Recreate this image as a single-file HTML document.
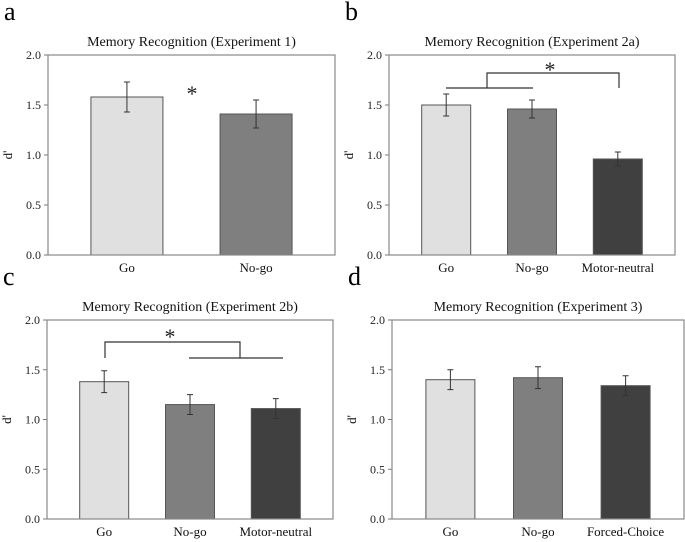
<!DOCTYPE html>
<html><head><meta charset="utf-8"><style>
html,body{margin:0;padding:0;background:#fff;}
svg{display:block;font-family:"Liberation Serif",serif;}
</style></head><body>
<svg id="fig" width="685" height="542" viewBox="0 0 685 542"></svg>
<script>
// Panel a
const catsA = ["Go","No-go"];
const valsA = [1.58,1.41];
const errsA = [0.15,0.14];
// Panel b
const catsB = ["Go","No-go","Motor-neutral"];
const valsB = [1.50,1.46,0.96];
const errsB = [0.11,0.09,0.07];
// Panel c
const catsC = ["Go","No-go","Motor-neutral"];
const valsC = [1.38,1.15,1.11];
const errsC = [0.11,0.10,0.10];
// Panel d
const catsD = ["Go","No-go","Forced-Choice"];
const valsD = [1.40,1.42,1.34];
const errsD = [0.10,0.11,0.10];
const yTicks = [0.0,0.5,1.0,1.5,2.0];
const yTickLabels = ["0.0","0.5","1.0","1.5","2.0"];

const NS="http://www.w3.org/2000/svg";
const svg=document.getElementById('fig');
function mk(tag,attrs,parent){const e=document.createElementNS(NS,tag);for(const k in attrs)e.setAttribute(k,attrs[k]);(parent||svg).appendChild(e);return e;}
const fills={"Go":"#e0e0e0","No-go":"#7f7f7f","Motor-neutral":"#404040","Forced-Choice":"#404040"};

function panel(id,letter,title,x0,x1,yT,yB,cats,vals,errs,bw,pad){
  const g=mk('g',{});
  
  
  const y=v=>yB-(v/2.0)*(yB-yT);
  const n=cats.length,w=x1-x0;
  const cx=i=>x0+w*(pad+i*(1-2*pad)/(n-1));
  const L=mk('text',{x:x0-44,y:yT-35,'font-size':26,fill:'#000'},g);L.textContent=letter;
  
  const T=mk('text',{x:(x0+x1)/2,y:yT-9,'font-size':14,'text-anchor':'middle',fill:'#111'},g);T.textContent=title;
  
  yTicks.forEach((t,i)=>{
    const tl=mk('line',{x1:x0-4,x2:x0,y1:y(t),y2:y(t),stroke:'#777'},g);
    
    const tx=mk('text',{x:x0-7,y:y(t)+4,'font-size':12,'text-anchor':'end',fill:'#222'},g);tx.textContent=yTickLabels[i];
    
  });
  const yl=mk('text',{x:0,y:0,'font-size':13,'text-anchor':'middle',transform:`translate(${x0-36},${(yT+yB)/2}) rotate(-90)`,fill:'#111'},g);yl.textContent="d'";
  
  cats.forEach((c,i)=>{
    const r=mk('rect',{x:cx(i)-bw/2,y:y(vals[i]),width:bw,height:yB-y(vals[i]),fill:fills[c],stroke:'#555','stroke-width':1},g);
    
    const eh=y(vals[i]+errs[i]),el=y(vals[i]-errs[i]);
    const e=mk('path',{d:`M${cx(i)},${eh}V${el}M${cx(i)-3},${eh}H${cx(i)+3}M${cx(i)-3},${el}H${cx(i)+3}`,stroke:'#333',fill:'none'},g);
    
    const lb=mk('text',{x:cx(i),y:yB+17,'font-size':13,'text-anchor':'middle',fill:'#111'},g);lb.textContent=c;
    
  });
  const b=mk('rect',{x:x0,y:yT,width:w,height:yB-yT,fill:'none',stroke:'#888','stroke-width':1.2},g);
  
  return {g,y,cx};
}
function star(g,x,yy){const s=mk('text',{x:x,y:yy,'font-size':22,'text-anchor':'middle',fill:'#222'},g);s.textContent='*';
  }
function br(g,d){const p=mk('path',{d:d,stroke:'#333',fill:'none','stroke-width':1.2},g);
  }

const A=panel('a','a','Memory Recognition (Experiment 1)',48,335,55,255,catsA,valsA,errsA,72,0.275);
star(A.g,192,101);
const B=panel('b','b','Memory Recognition (Experiment 2a)',389,675,55,255,catsB,valsB,errsB,49,0.2);
br(B.g,'M446,88H533M487,88V73H619V88');
star(B.g,550,77);
const C=panel('c','c','Memory Recognition (Experiment 2b)',47,333,320,519,catsC,valsC,errsC,49,0.2);
br(C.g,'M105,358V342H240V358M189,358H283');
star(C.g,170,344);
const D=panel('d','d','Memory Recognition (Experiment 3)',392,684,320,519,catsD,valsD,errsD,49,0.2);
</script>
</body></html>
